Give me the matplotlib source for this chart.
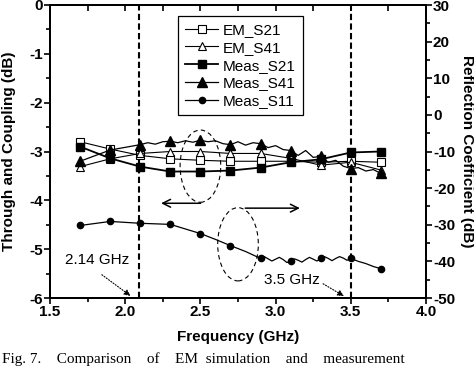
import numpy as np
import matplotlib
matplotlib.use("Agg")
import matplotlib.pyplot as plt
from matplotlib.patches import Ellipse
from matplotlib.ticker import MultipleLocator

plt.rcParams['font.family'] = ['Liberation Sans', 'DejaVu Sans']
plt.rcParams['axes.unicode_minus'] = False

# ---- data ----
freq = [1.7, 1.9, 2.1, 2.3, 2.5, 2.7, 2.9, 3.1, 3.3, 3.5, 3.7]
em_s21 = [-2.80, -2.95, -3.08, -3.15, -3.18, -3.20, -3.20, -3.20, -3.22, -3.20, -3.22]
em_s41 = [-3.31, -3.15, -3.04, -3.00, -3.00, -3.04, -3.04, -3.14, -3.28, -3.22, -3.38]
meas_s21 = [-2.90, -3.14, -3.31, -3.41, -3.41, -3.39, -3.33, -3.22, -3.16, -3.02, -3.00]

# measured S41 (dense trace, markers at the 0.2 GHz points)
s41_freq = [1.7, 1.9, 2.10, 2.15, 2.20, 2.25, 2.30, 2.35, 2.40, 2.45, 2.50, 2.55,
            2.60, 2.65, 2.70, 2.75, 2.80, 2.85, 2.90, 2.95, 3.00, 3.05, 3.10,
            3.15, 3.20, 3.25, 3.30, 3.35, 3.40, 3.45, 3.50, 3.55, 3.60, 3.65, 3.70]
meas_s41 = [-3.20, -2.97, -2.86, -2.82, -2.85, -2.80, -2.79, -2.82, -2.78, -2.81,
            -2.77, -2.80, -2.78, -2.84, -2.86, -2.80, -2.87, -2.82, -2.84, -2.92,
            -2.88, -2.96, -2.98, -3.08, -2.98, -3.12, -3.10, -3.22, -3.18, -3.30,
            -3.35, -3.33, -3.40, -3.37, -3.45]

# measured S11 (right axis, dense trace)
s11_freq = [1.7, 1.9, 2.1, 2.3, 2.5, 2.6, 2.7, 2.8, 2.900, 2.925, 2.950, 2.975,
            3.000, 3.025, 3.050, 3.075, 3.100, 3.125, 3.150, 3.175, 3.200, 3.225,
            3.250, 3.275, 3.300, 3.325, 3.350, 3.375, 3.400, 3.425, 3.450, 3.475,
            3.500, 3.55, 3.60, 3.65, 3.70]
meas_s11 = [-30.2, -29.1, -29.6, -29.9, -32.4, -34.0, -35.7, -37.3, -39.2, -38.7,
            -39.3, -39.9, -39.4, -38.9, -39.5, -40.3, -40.0, -39.3, -39.7, -40.2,
            -39.5, -38.9, -39.4, -39.9, -39.2, -38.7, -39.2, -39.8, -39.2, -38.7,
            -39.1, -39.7, -39.2, -40.0, -40.6, -41.4, -42.0]

labels = ['EM_S21', 'EM_S41', 'Meas_S21', 'Meas_S41', 'Meas_S11']
xticks = [1.5, 2.0, 2.5, 3.0, 3.5, 4.0]
vlines = [2.09, 3.5]

def mark_idx(fs):
    keys = set(round(f, 3) for f in freq)
    return [i for i, f in enumerate(fs) if round(f, 3) in keys]

fig = plt.figure(figsize=(4.74, 3.68), dpi=100)
ax = fig.add_axes([50/474, 1-298/368, 376/474, 293/368])
ax2 = ax.twinx()

h1, = ax.plot(freq, em_s21, color='black', lw=0.8, marker='s', ms=5.5,
              mfc='white', mec='black', mew=0.8, label=labels[0], zorder=3)
h2, = ax.plot(freq, em_s41, color='black', lw=0.8, marker='^', ms=6,
              mfc='white', mec='black', mew=0.8, label=labels[1], zorder=3)
h3, = ax.plot(freq, meas_s21, color='black', lw=1.3, marker='s', ms=5.5,
              mfc='black', mec='black', label=labels[2], zorder=4)
h4, = ax.plot(s41_freq, meas_s41, color='black', lw=0.9, marker='^', ms=6.5,
              mfc='black', mec='black', markevery=mark_idx(s41_freq),
              label=labels[3], zorder=4)
h5, = ax2.plot(s11_freq, meas_s11, color='black', lw=0.9, marker='o', ms=4.5,
               mfc='black', mec='black', markevery=mark_idx(s11_freq),
               label=labels[4], zorder=4)

for v in vlines:
    ax.axvline(v, color='black', lw=1.5, ls=(0, (3, 1.6)), zorder=2)

ax.set_xlim(1.5, 4.0)
ax.set_ylim(-6, 0)
ax2.set_ylim(-50, 30)
ax.set_xticks(xticks)
ax.set_xticklabels([f'{t:.1f}' for t in xticks])
ax.xaxis.set_minor_locator(MultipleLocator(0.25))
ax.yaxis.set_major_locator(MultipleLocator(1))
ax.yaxis.set_minor_locator(MultipleLocator(0.5))
ax2.yaxis.set_major_locator(MultipleLocator(10))
ax2.yaxis.set_minor_locator(MultipleLocator(5))

for a in (ax, ax2):
    for s in a.spines.values():
        s.set_linewidth(1.4)

ax.tick_params(axis='both', which='both', direction='out', width=1.2, labelsize=11, pad=1)
ax.tick_params(which='major', length=4)
ax.tick_params(which='minor', length=3)
ax2.tick_params(axis='y', which='both', direction='out', width=1.2, labelsize=11, pad=1)
ax2.tick_params(which='major', length=4)
ax2.tick_params(which='minor', length=3)
for lab in ax.get_xticklabels() + ax.get_yticklabels() + ax2.get_yticklabels():
    lab.set_fontweight('bold')

# top ticks pointing inward
sec = ax.secondary_xaxis('top')
sec.set_xticks(xticks)
sec.xaxis.set_minor_locator(MultipleLocator(0.25))
sec.tick_params(which='both', direction='in', length=4, width=1.2, labeltop=False)
sec.spines['top'].set_linewidth(1.4)

ax.set_xlabel('Frequency (GHz)', fontsize=11, fontweight='bold')
ax.xaxis.set_label_coords(0.5, -0.11)
ax.set_ylabel('Through and Coupling (dB)', fontsize=11, fontweight='bold')
ax.yaxis.set_label_coords(-0.09, 0.5)
ax2.set_ylabel('Reflection Coefficient (dB)', fontsize=11, fontweight='bold',
               rotation=270, va='center')
ax2.yaxis.set_label_coords(1.11, 0.5)

# annotations
ax.add_patch(Ellipse((2.5, -3.3), 0.27, 1.48, fill=False, ec='black', lw=0.8,
                     ls=(0, (4, 3)), zorder=2))
ax.add_patch(Ellipse((2.75, -4.9), 0.27, 1.5, fill=False, ec='black', lw=0.8,
                     ls=(0, (4, 3)), zorder=2))
ax.annotate('', xy=(2.22, -4.06), xytext=(2.52, -4.06),
            arrowprops=dict(arrowstyle='->', lw=1.1, color='black', mutation_scale=14))
ax.annotate('', xy=(3.18, -4.16), xytext=(2.78, -4.16),
            arrowprops=dict(arrowstyle='->', lw=1.1, color='black', mutation_scale=14))

ax.text(1.6, -5.23, '2.14 GHz', fontsize=11, va='center', ha='left')
ax.text(2.92, -5.64, '3.5 GHz', fontsize=11, va='center', ha='left')
ax.annotate('', xy=(2.05, -5.99), xytext=(1.83, -5.49),
            arrowprops=dict(arrowstyle='-|>', lw=0.8, ls=(0, (1, 1.5)), color='black',
                            mutation_scale=9), annotation_clip=False)
ax.annotate('', xy=(3.47, -5.99), xytext=(3.30, -5.68),
            arrowprops=dict(arrowstyle='-|>', lw=0.8, ls=(0, (1, 1.5)), color='black',
                            mutation_scale=9), annotation_clip=False)

leg = ax2.legend(handles=[h1, h2, h3, h4, h5], labels=labels, loc='upper left',
                 bbox_to_anchor=(0.34, 0.962), borderaxespad=0, fontsize=11,
                 frameon=True, fancybox=False, edgecolor='black', framealpha=1,
                 handlelength=2.2, handletextpad=0.3, labelspacing=0.25,
                 borderpad=0.45)
leg.get_frame().set_linewidth(0.9)

fig.text(0.005, 1-352/368, 'Fig. 7.    Comparison    of    EM  simulation    and    measurement',
         fontsize=11, family=['Liberation Serif', 'DejaVu Serif'], va='top', ha='left')

fig.savefig('out.png', dpi=100)
